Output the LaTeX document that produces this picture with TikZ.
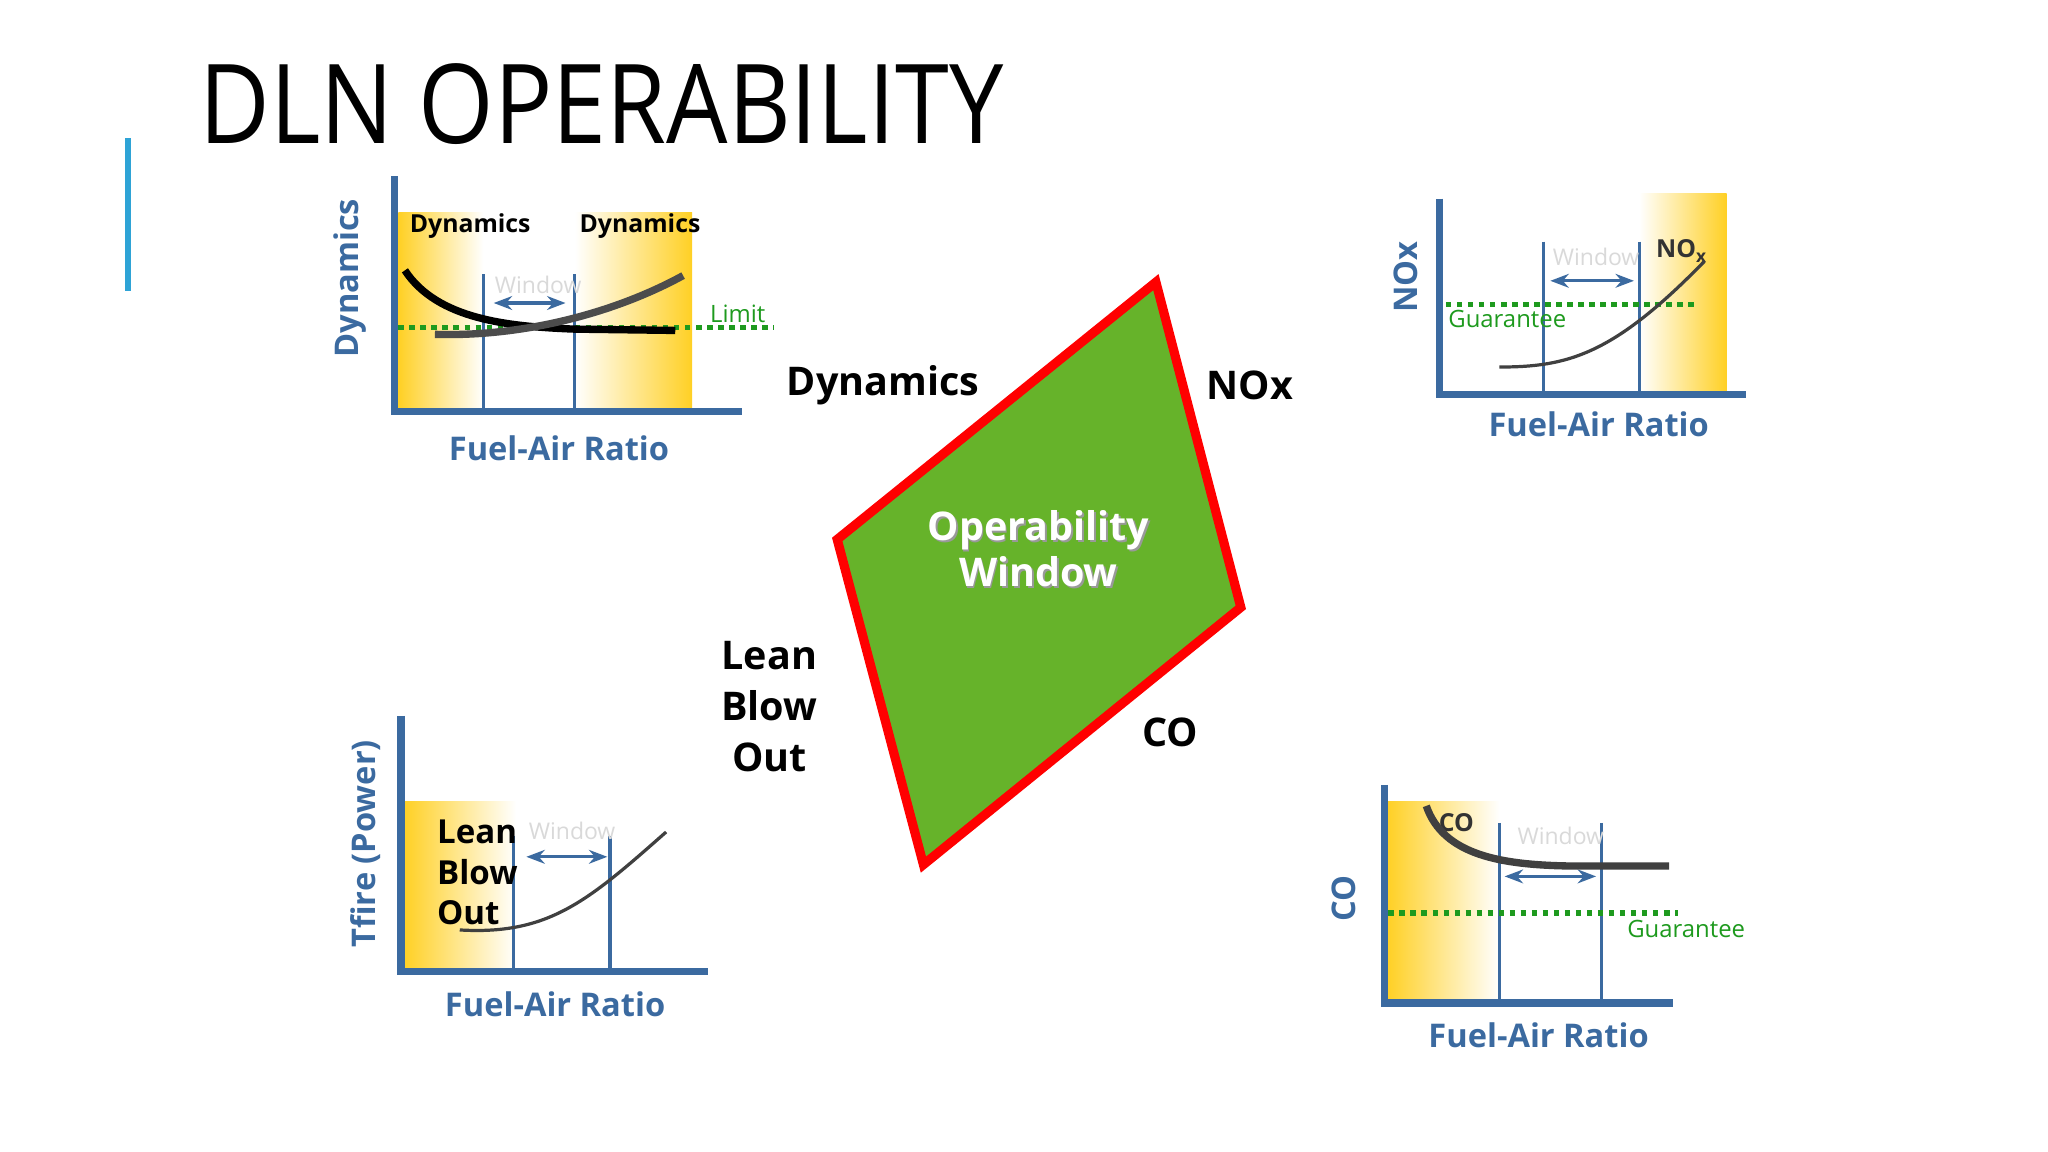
\documentclass[tikz,border=0pt]{standalone}
\usepackage{fontspec}
\setmainfont{Open Sans}
\usetikzlibrary{arrows.meta}
\definecolor{axblue}{HTML}{3B6AA0}
\definecolor{ylw}{HTML}{FFD024}
\definecolor{grn}{HTML}{1E9A1E}
\definecolor{dgreen}{HTML}{66B32A}
\definecolor{lblue}{HTML}{2EA3D6}
\tikzset{
 fs/.style={font=\fontsize{#1}{#1}\selectfont},
 axis/.style={axblue, line width=1.6pt},
 vline/.style={axblue, line width=0.7pt},
 warrow/.style={axblue, line width=0.7pt, {Stealth[length=4pt]}-{Stealth[length=4pt]}},
 wlabel/.style={fs=5, text=black!15, inner sep=0},
 axlabel/.style={text=axblue, font=\bfseries\fontsize{7.1}{7.1}\selectfont, inner sep=0},
 ylabel/.style={axlabel, rotate=90},
 dotline/.style={grn, line width=1.1pt, dash pattern=on 1.2pt off 1.2pt},
 glabel/.style={text=grn, fs=5.2, inner sep=0},
 blabel/.style={font=\bfseries\fontsize{5.4}{5.4}\selectfont, inner sep=0},
 lbo/.style={font=\bfseries\fontsize{7.2}{7.2}\selectfont, inner sep=0, anchor=west},
 biglabel/.style={font=\bfseries\fontsize{8.6}{10}\selectfont, inner sep=0, align=center},
 thick curve/.style={line width=1.6pt},
 thin curve/.style={black!75, line width=0.7pt},
}
\begin{document}
\begin{tikzpicture}[x=0.01cm,y=-0.01cm]
\useasboundingbox (0,0) rectangle (1568,882);
\fill[white] (0,0) rectangle (1568,882);
% title
\node[anchor=base west, inner sep=0, font=\fontsize{24}{24}\selectfont] (title) at (152,110) {\scalebox{0.88}[1]{DLN OPERABILITY}};
\draw[lblue, line width=1.2pt] (98,106) -- (98,223);

% ---------- top-left chart
\shade[left color=ylw, right color=white] (305,163) rectangle (370,313);
\shade[left color=white, right color=ylw] (440,163) rectangle (530,313);
\draw[vline] (370,210) -- (370,315);
\draw[vline] (440,210) -- (440,315);
\node[wlabel] (w1) at (412,218) {Window};
\draw[warrow] (378,232) -- (433,232);
\draw[dotline] (305,251) -- (592,251);
\node[glabel, anchor=west] (lim) at (543,240) {Limit};
\draw[thick curve, black] (310,207) .. controls (335,245) and (390,250) .. (440,252) -- (517,253);
\draw[thick curve, black!70] (333,256) .. controls (400,258) and (470,240) .. (523,211);
\node[blabel] (d1) at (360,173) {Dynamics};
\node[blabel] (d2) at (490,173) {Dynamics};
\draw[axis] (302,135) -- (302,315) -- (568,315);
\node[ylabel] (yl1) at (268,213) {Dynamics};
\node[axlabel] (xl1) at (428,343) {Fuel-Air Ratio};

% ---------- top-right chart
\shade[left color=white, right color=ylw] (1255,148) rectangle (1322,300);
\draw[vline] (1182,185) -- (1182,302);
\draw[vline] (1255,185) -- (1255,302);
\node[wlabel] (w2) at (1222,197) {Window};
\draw[warrow] (1187,215) -- (1251,215);
\node[blabel, text=black!80] (no) at (1288,192) {NO\textsubscript{x}};
\draw[dotline] (1107,233) -- (1297,233);
\node[glabel] (g2) at (1154,244) {Guarantee};
\draw[thin curve] (1148,281) .. controls (1200,281) and (1235,272) .. (1305,200);
\draw[axis] (1102,152) -- (1102,302) -- (1337,302);
\node[ylabel] (yl2) at (1076,212) {NOx};
\node[axlabel] (xl2) at (1224,325) {Fuel-Air Ratio};

% ---------- bottom-left chart
\shade[left color=ylw, right color=white] (309,614) rectangle (395,742);
\draw[vline] (393,640) -- (393,744);
\draw[vline] (467,640) -- (467,744);
\node[wlabel] (w3) at (438,636) {Window};
\draw[warrow] (403,656) -- (465,656);
\node[lbo] (l1) at (334,637) {Lean};
\node[lbo] (l2) at (334,668) {Blow};
\node[lbo] (l3) at (334,699) {Out};
\draw[thin curve] (352,712) .. controls (420,716) and (450,690) .. (510,637);
\draw[axis] (307,548) -- (307,744) -- (542,744);
\node[ylabel] (yl3) at (280,646) {Tfire (Power)};
\node[axlabel] (xl3) at (425,769) {Fuel-Air Ratio};

% ---------- bottom-right chart
\shade[left color=ylw, right color=white] (1062,614) rectangle (1148,766);
\draw[vline] (1148,630) -- (1148,768);
\draw[vline] (1226,630) -- (1226,768);
\node[wlabel] (w4) at (1195,640) {Window};
\draw[warrow] (1152,671) -- (1222,671);
\node[blabel, text=black!80] (co) at (1115,630) {CO};
\draw[thick curve, black!75] (1092,617) .. controls (1105,655) and (1150,662) .. (1200,663) -- (1278,663);
\draw[dotline] (1063,699) -- (1285,699);
\node[glabel] (g4) at (1291,711) {Guarantee};
\draw[axis] (1060,601) -- (1060,768) -- (1281,768);
\node[ylabel] (yl4) at (1029,688) {CO};
\node[axlabel] (xl4) at (1178,793) {Fuel-Air Ratio};

% ---------- centre
\coordinate (pt) at (885,216);
\coordinate (pr) at (950,465);
\coordinate (pb) at (707,662);
\coordinate (pl) at (641,413);
\draw[red, fill=dgreen, line width=2pt, line join=miter] (pt) -- (pr) -- (pb) -- (pl) -- cycle;
\node[biglabel, text=black!40] at (796.5,421.5) {Operability\\Window};
\node[biglabel, text=white] (ow) at (795,420) {Operability\\Window};
\node[biglabel] (cd) at (676,295) {Dynamics};
\node[biglabel] (cn) at (957,295) {NOx};
\node[biglabel] (cc) at (896,561) {CO};
\node[biglabel, font=\bfseries\fontsize{8.6}{11.1}\selectfont] (cl) at (589,541) {Lean\\Blow\\Out};
\end{tikzpicture}
\end{document}
